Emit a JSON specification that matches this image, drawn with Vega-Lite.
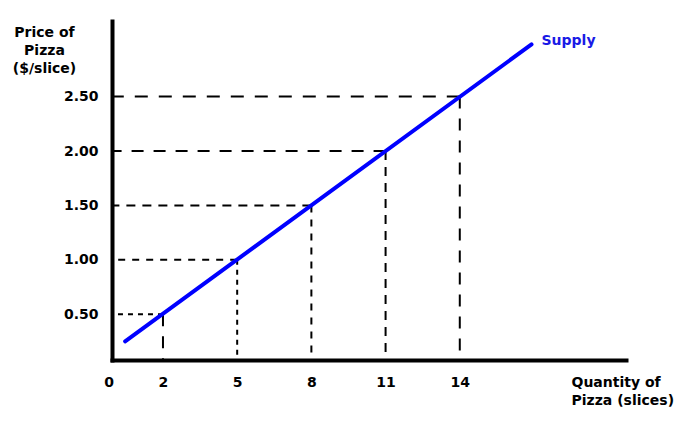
{
  "$schema": "https://vega.github.io/schema/vega-lite/v6.json",
  "autosize": {"type": "none"},
  "width": 514,
  "height": 339,
  "padding": {"left": 112, "top": 21, "right": 68, "bottom": 70},
  "background": "white",
  "config": {
    "view": {"stroke": null},
    "font": "DejaVu Sans",
    "axis": {
      "grid": false,
      "ticks": false,
      "domainColor": "black",
      "domainWidth": 4,
      "domainCap": "square",
      "labelFont": "DejaVu Sans",
      "labelFontSize": 14,
      "labelFontWeight": "bold",
      "labelColor": "black",
      "titleFont": "DejaVu Sans",
      "titleFontSize": 14,
      "titleFontWeight": "bold",
      "titleColor": "black",
      "titleLineHeight": 18
    }
  },
  "datasets": {
    "points": [
      {"q": 2, "p": 0.5},
      {"q": 5, "p": 1.0},
      {"q": 8, "p": 1.5},
      {"q": 11, "p": 2.0},
      {"q": 14, "p": 2.5}
    ],
    "supply": [
      {"q": 0.47, "p": 0.25},
      {"q": 16.9, "p": 2.98}
    ],
    "label": [
      {"q": 16.9, "p": 2.98, "text": "Supply"}
    ]
  },
  "layer": [
    {
      "data": {"name": "points"},
      "mark": {"type": "rule", "color": "black", "strokeWidth": 2, "clip": true},
      "encoding": {
        "x": {"field": "q", "type": "quantitative", "scale": {"domain": [-0.061, 20.72], "nice": false, "zero": false},
          "axis": {"values": [0, 2, 5, 8, 11, 14], "labelPadding": 15, "labelFlush": false,
            "labelAlign": {"condition": {"test": "datum.value == 0", "value": "right"}, "value": "center"},
            "title": ["Quantity of", "Pizza (slices)"], "titleAlign": "left", "titleBaseline": "alphabetic",
            "titleAnchor": "start", "titleX": 459, "titleY": 26}},
        "x2": {"datum": 0},
        "y": {"field": "p", "type": "quantitative", "scale": {"domain": [0.079, 3.195], "nice": false, "zero": false},
          "axis": {"values": [0.5, 1.0, 1.5, 2.0, 2.5], "format": ".2f", "labelPadding": 14, "labelFlush": false,
            "title": ["Price of", "Pizza", "($/slice)"], "titleAngle": 0, "titleAlign": "center",
            "titleBaseline": "alphabetic", "titleX": -68, "titleY": 15}},
        "strokeDash": {"field": "p", "type": "ordinal", "legend": null,
          "scale": {"domain": [0.5, 1.0, 1.5, 2.0, 2.5], "range": [[5, 5], [7, 7], [9, 7], [12, 10], [13, 11]]}}
      }
    },
    {
      "data": {"name": "points"},
      "mark": {"type": "rule", "color": "black", "strokeWidth": 2, "clip": true},
      "encoding": {
        "x": {"field": "q", "type": "quantitative"},
        "y": {"field": "p", "type": "quantitative"},
        "y2": {"datum": 0},
        "strokeDash": {"field": "q", "type": "ordinal", "legend": null,
          "scale": {"domain": [2, 5, 8, 11, 14], "range": [[4, 6], [8, 7], [11, 10], [12, 8], [10, 8]]}}
      }
    },
    {
      "data": {"name": "supply"},
      "mark": {"type": "line", "color": "#0000ff", "strokeWidth": 4, "strokeCap": "round"},
      "encoding": {
        "x": {"field": "q", "type": "quantitative"},
        "y": {"field": "p", "type": "quantitative"}
      }
    },
    {
      "data": {"name": "label"},
      "mark": {"type": "text", "align": "left", "baseline": "middle", "dx": 10, "dy": -3,
        "font": "DejaVu Sans", "fontSize": 14, "fontWeight": "bold", "color": "#1a1ae6"},
      "encoding": {
        "x": {"field": "q", "type": "quantitative"},
        "y": {"field": "p", "type": "quantitative"},
        "text": {"field": "text"}
      }
    }
  ]
}
